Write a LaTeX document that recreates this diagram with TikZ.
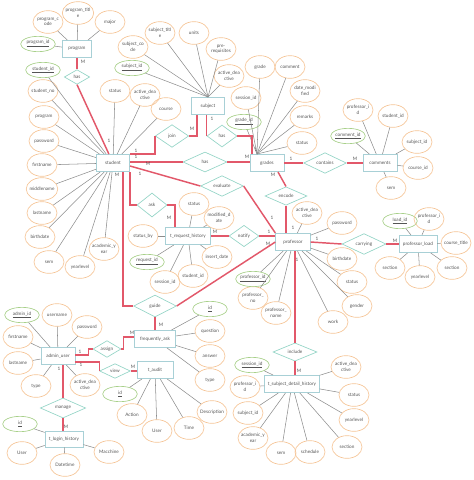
\documentclass[tikz,border=0pt]{standalone}
\usepackage{fontspec}
\setmainfont{Lato}
\usetikzlibrary{shapes.geometric,calc}

\definecolor{attrOrange}{RGB}{245,196,150}
\definecolor{keyGreen}{RGB}{168,208,138}
\definecolor{entityBlue}{RGB}{168,208,214}
\definecolor{relTeal}{RGB}{148,212,198}
\definecolor{relRed}{RGB}{226,88,106}
\definecolor{linkGray}{RGB}{140,140,140}
\definecolor{txtGray}{RGB}{85,85,85}

\tikzset{every picture/.style={line width=0.5pt},
	every node/.style={font=\fontsize{3.5}{4.1}\selectfont, text=txtGray, align=center},
	attr/.style={ellipse, draw=attrOrange, minimum width=22.5pt, minimum height=17pt, inner xsep=-1pt, inner ysep=0pt},
	keyattr/.style={ellipse, draw=keyGreen, minimum width=26pt, minimum height=11.5pt, inner xsep=-0.5pt, inner ysep=0pt},
	entity/.style={rectangle, draw=entityBlue, minimum height=13pt, inner sep=1pt},
	relation/.style={diamond, draw=relTeal, inner sep=0pt},
	link/.style={draw=linkGray, line width=0.4pt},
	rel/.style={draw=relRed, line width=1.1pt},
	card/.style={inner sep=0pt}}

\begin{document}
\begin{tikzpicture}[x=0.75pt,y=0.75pt,yscale=-1,xscale=1]
	\useasboundingbox (0,0) rectangle (474,480);

	%Entities
	\node[entity, minimum width=22pt] (prog) at (77,49) {program};
	\node[entity, minimum width=25pt] (stud) at (113,163) {student};
	\node[entity, minimum width=25pt] (subj) at (208,106) {subject};
	\node[entity, minimum width=25.5pt] (grd) at (267,163) {grades};
	\node[entity, minimum width=25.5pt] (cmt) at (380,163) {comments};
	\node[entity, minimum width=34pt] (req) at (188,236) {t\_request\_history};
	\node[entity, minimum width=26pt] (prof) at (293,242) {professor};
	\node[entity, minimum width=28.5pt] (load) at (418,244) {professor\_load};
	\node[entity, minimum width=31pt] (faq) at (155,339) {frequently\_ask};
	\node[entity, minimum width=27pt] (aud) at (155,370) {t\_audit};
	\node[entity, minimum width=41pt] (sdh) at (292,384) {t\_subject\_detail\_history};
	\node[entity, minimum width=25.5pt] (adm) at (58,356) {admin\_user};
	\node[entity, minimum width=28.5pt, minimum height=12pt] (login) at (64,439) {t\_login\_history};

	%Relationships
	\node[relation, minimum width=19pt, minimum height=11pt] (hasProg) at (77,77) {has};
	\node[relation, minimum width=25pt, minimum height=17pt] (joinRel) at (172,136) {join};
	\node[relation, minimum width=22.5pt, minimum height=16.5pt] (hasSubj) at (222,136) {has};
	\node[relation, minimum width=33pt, minimum height=15pt] (hasGrd) at (205,162) {has};
	\node[relation, minimum width=32pt, minimum height=15pt] (evalRel) at (222,186) {evaluate};
	\node[relation, minimum width=31.5pt, minimum height=13.5pt] (encodeRel) at (286,196) {encode};
	\node[relation, minimum width=32pt, minimum height=15pt] (containsRel) at (325,163) {contains};
	\node[relation, minimum width=22.5pt, minimum height=18pt] (askRel) at (152,205) {ask};
	\node[relation, minimum width=22.5pt, minimum height=16pt] (notifyRel) at (244,236) {notify};
	\node[relation, minimum width=33pt, minimum height=15pt] (carryRel) at (364,244) {carrying};
	\node[relation, minimum width=32pt, minimum height=16.5pt] (guideRel) at (155,306) {guide};
	\node[relation, minimum width=33pt, minimum height=13.5pt] (includeRel) at (295,352) {include};
	\node[relation, minimum width=21pt, minimum height=11pt] (assignRel) at (107,349) {assign};
	\node[relation, minimum width=23pt, minimum height=11pt] (viewRel) at (115,371) {view};
	\node[relation, minimum width=34pt, minimum height=15pt] (manageRel) at (63,408) {manage};

	%Attributes: program
	\node[attr] (progCode) at (48,22) {program\_c\\ode};
	\node[attr] (progTitle) at (78,13) {program\_titl\\e};
	\node[attr] (progMajor) at (110,22) {major};
	\node[keyattr] (progId) at (38,44) {\underline{program\_id}};

	%Attributes: student
	\node[keyattr] (studId) at (43,70) {\underline{student\_id}};
	\node[attr] (studNo) at (43,91) {student\_no};
	\node[attr] (studProgram) at (44,117) {program};
	\node[attr] (studPassword) at (44,141) {password};
	\node[attr] (studFirst) at (42,165) {firstname};
	\node[attr] (studMiddle) at (42,189) {middlename};
	\node[attr] (studLast) at (42,213) {lastname};
	\node[attr] (studBirth) at (40,237) {birthdate};
	\node[attr] (studSem) at (49,262) {sem};
	\node[attr] (studYear) at (80,267) {yearlevel};
	\node[attr] (studAcad) at (104,249) {academic\_y\\ear};
	\node[attr] (studStatus) at (115,91) {status};
	\node[attr] (studActive) at (145,95) {active\_dea\\ctive};
	\node[attr] (studCourse) at (166,109) {course};

	%Attributes: subject
	\node[attr] (subjCode) at (133,47) {subject\_co\\de};
	\node[keyattr] (subjId) at (132,68) {\underline{subject\_id}};
	\node[attr] (subjTitle) at (160,33) {subject\_titl\\e};
	\node[attr] (subjUnits) at (194,33) {units};
	\node[attr] (subjPre) at (221,49) {pre-\\requisites};
	\node[attr] (subjActive) at (229,76) {active\_dea\\ctive};

	%Attributes: grades
	\node[attr] (grdGrade) at (260,67) {grade};
	\node[attr] (grdComment) at (290,67) {comment};
	\node[attr] (grdDate) at (305,91) {date\_modi\\fied};
	\node[attr] (grdSession) at (246,98) {session\_id};
	\node[attr] (grdRemarks) at (305,117) {remarks};
	\node[keyattr] (grdId) at (244,122) {\underline{grade\_id}};
	\node[attr] (grdStatus) at (302,143) {status};

	%Attributes: comments
	\node[attr] (cmtProf) at (358,110) {professor\_i\\d};
	\node[attr] (cmtStud) at (393,116) {student\_id};
	\node[keyattr] (cmtId) at (348,136) {\underline{comment\_id}};
	\node[attr] (cmtSubj) at (417,142) {subject\_id};
	\node[attr] (cmtCourse) at (418,168) {course\_id};
	\node[attr] (cmtSem) at (391,188) {sem};

	%Attributes: t_request_history
	\node[attr] (reqStatus) at (194,204) {status};
	\node[attr] (reqModified) at (219,218) {modified\_d\\ate};
	\node[attr] (reqStatusBy) at (143,236) {status\_by};
	\node[keyattr] (reqId) at (147,262) {\underline{request\_id}};
	\node[attr] (reqSession) at (165,282) {session\_id};
	\node[attr] (reqStudent) at (193,276) {student\_id};
	\node[attr] (reqInsert) at (217,257) {insert\_date};

	%Attributes: professor
	\node[attr] (profActive) at (307,213) {active\_dea\\ctive};
	\node[attr] (profPassword) at (342,223) {password};
	\node[attr] (profBirth) at (342,259) {birthdate};
	\node[attr] (profStatus) at (352,282) {status};
	\node[attr] (profGender) at (357,306) {gender};
	\node[attr] (profWork) at (333,322) {work};
	\node[attr] (profName) at (276,313) {professor\_\\name};
	\node[attr] (profNo) at (253,298) {professor\_\\no};
	\node[keyattr] (profId) at (253,279) {\underline{professor\_id}};

	%Attributes: professor_load
	\node[keyattr] (loadId) at (400,221) {\underline{load\_id}};
	\node[attr] (loadProf) at (429,219) {professor\_i\\d};
	\node[attr] (loadTitle) at (456,243) {course\_title};
	\node[attr] (loadSecA) at (390,268) {section};
	\node[attr] (loadYear) at (420,277) {yearlevel};
	\node[attr] (loadSecB) at (452,268) {section};

	%Attributes: frequently_ask
	\node[keyattr] (faqId) at (210,309) {\underline{id}};
	\node[attr] (faqQuestion) at (210,331) {question};
	\node[attr] (faqAnswer) at (210,356) {answer};
	\node[attr] (faqType) at (210,380) {type};

	%Attributes: t_audit
	\node[keyattr] (audId) at (120,394) {\underline{id}};
	\node[attr] (audAction) at (132,415) {Action};
	\node[attr] (audUser) at (157,431) {User};
	\node[attr] (audTime) at (189,428) {Time};
	\node[attr] (audDesc) at (212,412) {Description};

	%Attributes: t_subject_detail_history
	\node[keyattr] (sdhSession) at (252,365) {\underline{session\_id}};
	\node[attr] (sdhProf) at (245,387) {professor\_i\\d};
	\node[attr] (sdhSubj) at (248,413) {subject\_id};
	\node[attr] (sdhAcad) at (253,438) {academic\_y\\ear};
	\node[attr] (sdhSem) at (281,453) {sem};
	\node[attr] (sdhSched) at (310,452) {schedule};
	\node[attr] (sdhSection) at (347,447) {section};
	\node[attr] (sdhYear) at (354,420) {yearlevel};
	\node[attr] (sdhStatus) at (354,395) {status};
	\node[attr] (sdhActive) at (346,367) {active\_dea\\ctive};

	%Attributes: admin_user
	\node[keyattr] (admId) at (22,315) {\underline{admin\_id}};
	\node[attr] (admUser) at (57,315) {username};
	\node[attr] (admPass) at (87,327) {password};
	\node[attr] (admFirst) at (18,337) {firstname};
	\node[attr] (admLast) at (18,363) {lastname};
	\node[attr] (admType) at (36,386) {type};
	\node[attr] (admActive) at (85,385) {active\_dea\\ctive};

	%Attributes: t_login_history
	\node[keyattr] (loginId) at (20,424) {\underline{id}};
	\node[attr] (loginUser) at (22,453) {User};
	\node[attr] (loginDate) at (65,465) {Datetime};
	\node[attr] (loginMachine) at (109,452) {Macchine};

	%Straight Lines: attributes
	\draw[link] (progCode) -- (prog);
	\draw[link] (progTitle) -- (prog);
	\draw[link] (progMajor) -- (prog);
	\draw[link] (progId) -- (prog);

	\draw[link] (studId) -- (stud);
	\draw[link] (studNo) -- (stud);
	\draw[link] (studProgram) -- (stud);
	\draw[link] (studPassword) -- (stud);
	\draw[link] (studFirst) -- (stud);
	\draw[link] (studMiddle) -- (stud);
	\draw[link] (studLast) -- (stud);
	\draw[link] (studBirth) -- (stud);
	\draw[link] (studSem) -- (stud);
	\draw[link] (studYear) -- (stud);
	\draw[link] (studAcad) -- (stud);
	\draw[link] (studStatus) -- (stud);
	\draw[link] (studActive) -- (stud);
	\draw[link] (studCourse) -- (stud);

	\draw[link] (subjCode) -- (subj.north);
	\draw[link] (subjId) -- (subj.north);
	\draw[link] (subjTitle) -- (subj.north);
	\draw[link] (subjUnits) -- (subj.north);
	\draw[link] (subjPre) -- (subj.north);
	\draw[link] (subjActive) -- (subj.north);

	\draw[link] (grdGrade) -- ($(grd.north)+(-10,0)$);
	\draw[link] (grdComment) -- ($(grd.north)+(-10,0)$);
	\draw[link] (grdDate) -- ($(grd.north)+(-10,0)$);
	\draw[link] (grdSession) -- ($(grd.north)+(-10,0)$);
	\draw[link] (grdRemarks) -- ($(grd.north)+(-10,0)$);
	\draw[link] (grdId) -- ($(grd.north)+(-10,0)$);
	\draw[link] (grdStatus) -- ($(grd.north)+(-10,0)$);

	\draw[link] (cmtProf) -- (cmt);
	\draw[link] (cmtStud) -- (cmt);
	\draw[link] (cmtId) -- (cmt);
	\draw[link] (cmtSubj) -- (cmt);
	\draw[link] (cmtCourse) -- (cmt);
	\draw[link] (cmtSem) -- (cmt);

	\draw[link] (reqStatus) -- (req);
	\draw[link] (reqModified) -- (req);
	\draw[link] (reqStatusBy) -- (req);
	\draw[link] (reqId) -- (req);
	\draw[link] (reqSession) -- (req);
	\draw[link] (reqStudent) -- (req);
	\draw[link] (reqInsert) -- (req);

	\draw[link] (profActive) -- (prof);
	\draw[link] (profPassword) -- (prof);
	\draw[link] (profBirth) -- (prof);
	\draw[link] (profStatus) -- (prof);
	\draw[link] (profGender) -- (prof);
	\draw[link] (profWork) -- (prof);
	\draw[link] (profName) -- (prof);
	\draw[link] (profNo) -- (prof);
	\draw[link] (profId) -- (prof);

	\draw[link] (loadId) -- (load);
	\draw[link] (loadProf) -- (load);
	\draw[link] (loadTitle) -- (load);
	\draw[link] (loadSecA) -- (load);
	\draw[link] (loadYear) -- (load);
	\draw[link] (loadSecB) -- (load);

	\draw[link] (faqId) -- (faq);
	\draw[link] (faqQuestion) -- (faq);
	\draw[link] (faqAnswer) -- (faq);
	\draw[link] (faqType) -- (faq);

	\draw[link] (audId) -- (aud);
	\draw[link] (audAction) -- (aud);
	\draw[link] (audUser) -- (aud);
	\draw[link] (audTime) -- (aud);
	\draw[link] (audDesc) -- (aud);

	\draw[link] (sdhSession) -- (sdh);
	\draw[link] (sdhProf) -- (sdh);
	\draw[link] (sdhSubj) -- (sdh);
	\draw[link] (sdhAcad) -- (sdh);
	\draw[link] (sdhSem) -- (sdh);
	\draw[link] (sdhSched) -- (sdh);
	\draw[link] (sdhSection) -- (sdh);
	\draw[link] (sdhYear) -- (sdh);
	\draw[link] (sdhStatus) -- (sdh);
	\draw[link] (sdhActive) -- (sdh);

	\draw[link] (admId) -- (adm);
	\draw[link] (admUser) -- (adm);
	\draw[link] (admPass) -- (adm);
	\draw[link] (admFirst) -- (adm);
	\draw[link] (admLast) -- (adm);
	\draw[link] (admType) -- (adm);
	\draw[link] (admActive) -- (adm);

	\draw[link] (loginId) -- (login);
	\draw[link] (loginUser) -- (login);
	\draw[link] (loginDate) -- (login);
	\draw[link] (loginMachine) -- (login);

	%Straight Lines: relationships
	\draw[rel] (prog) -- (hasProg);
	\draw[rel] (hasProg.south) -- (stud);
	\draw[rel] (joinRel.west) |- (stud.north east);
	\draw[rel] (joinRel.east) -| ($(subj.south)+(-11,0)$);
	\draw[rel] (hasSubj.west) -- (hasSubj.west |- subj.south);
	\draw[rel] (hasSubj.east) -| ($(grd.north)+(-15,0)$);
	\draw[rel] (hasGrd.west) -- (hasGrd.west -| stud.east);
	\draw[rel] (hasGrd.east) -- (hasGrd.east -| grd.west);
	\draw[rel] ($(stud.east)+(0,3)$) -- (evalRel.west);
	\draw[rel] (evalRel.east) -- (prof.north west);
	\draw[rel] ($(grd.south)+(11,0)$) -- (encodeRel.north);
	\draw[rel] (encodeRel.south) -- (encodeRel.south |- prof.north);
	\draw[rel] (grd.east) -- (containsRel.west);
	\draw[rel] (containsRel.east) -- (cmt.west);
	\draw[rel] (askRel.west) -| (stud.south east);
	\draw[rel] (askRel.east) -| ($(req.north)+(-13,0)$);
	\draw[rel] (req.east) -- (notifyRel.west);
	\draw[rel] (notifyRel.east) -- (notifyRel.east -| prof.west);
	\draw[rel] (guideRel.west) -| ($(stud.south)+(10,0)$);
	\draw[rel] (guideRel.east) -- (prof.west);
	\draw[rel] (guideRel.south) -- (faq.north);
	\draw[rel] (prof.east) -- (carryRel.west);
	\draw[rel] (carryRel.east) -- (load.west);
	\draw[rel] (includeRel.north) -- (includeRel.north |- prof.south);
	\draw[rel] (includeRel.south) -- (includeRel.south |- sdh.north);
	\draw[rel] (assignRel.west) -- ++(-4,0) |- ($(adm.east)+(0,-1)$);
	\draw[rel] (assignRel.east) -- ++(2,0) |- ($(faq.west)+(0,-2)$);
	\draw[rel] (viewRel.west) |- ($(adm.east)+(0,6)$);
	\draw[rel] (viewRel.east) -- (viewRel.east -| aud.west);
	\draw[rel] (manageRel.north) -- (manageRel.north |- adm.south);
	\draw[rel] (manageRel.south) -- (manageRel.south |- login.north);

	% Text Node: cardinalities
	\node[card] (cProgM) at (83,62) {M};
	\node[card] (cProgOne) at (109,141) {1};
	\node[card] (cJoinOne) at (136,151) {1};
	\node[card] (cJoinM) at (192,129) {M};
	\node[card] (cSubjOne) at (212,119) {1};
	\node[card] (cSubjGrdOne) at (256,150) {1};
	\node[card] (cHasOne) at (136,157) {1};
	\node[card] (cHasM) at (247,157) {M};
	\node[card] (cEvalM) at (148,164) {M};
	\node[card] (cEvalOne) at (272,218) {1};
	\node[card] (cEncodeM) at (273,175) {M};
	\node[card] (cEncodeOne) at (293,228) {1};
	\node[card] (cContainsOne) at (291,159) {1};
	\node[card] (cContainsM) at (355,159) {M};
	\node[card] (cAskOne) at (140,174) {1};
	\node[card] (cAskM) at (169,218) {M};
	\node[card] (cNotifyM) at (215,232) {M};
	\node[card] (cNotifyOne) at (269,232) {1};
	\node[card] (cGuideStudM) at (117,175) {M};
	\node[card] (cGuideProfM) at (268,244) {M};
	\node[card] (cGuideFaqM) at (161,325) {M};
	\node[card] (cCarryOne) at (317,239) {1};
	\node[card] (cCarryM) at (395,241) {M};
	\node[card] (cIncludeOne) at (297,260) {1};
	\node[card] (cIncludeM) at (299,371) {M};
	\node[card] (cAssignOne) at (80,352) {1};
	\node[card] (cAssignM) at (132,333) {M};
	\node[card] (cViewOne) at (81,365) {1};
	\node[card] (cViewM) at (133,367) {M};
	\node[card] (cManageOne) at (59,369) {1};
	\node[card] (cManageM) at (66,427) {M};

\end{tikzpicture}
\end{document}
